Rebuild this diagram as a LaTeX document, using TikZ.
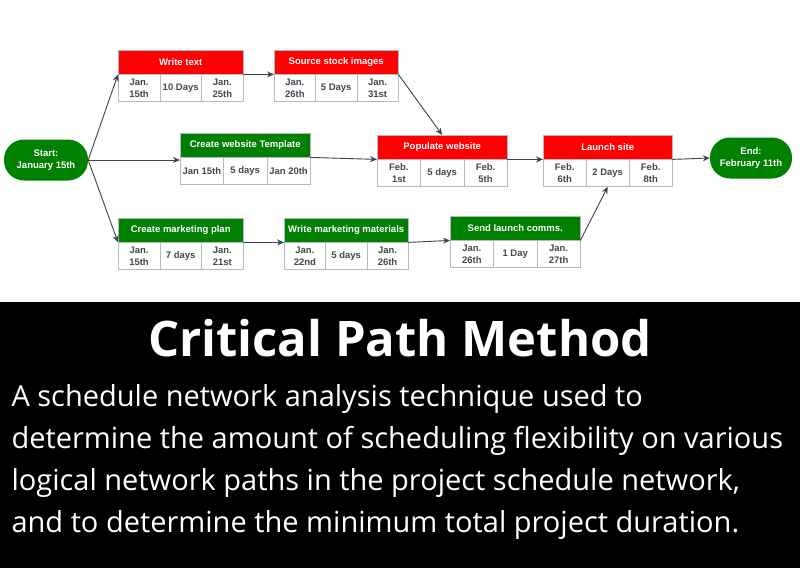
\documentclass[tikz,border=0pt]{standalone}
\usepackage{fontspec}
\setmainfont{Liberation Sans}
\newfontfamily\captionfont{Open Sans}
\usetikzlibrary{arrows.meta}
\definecolor{critred}{RGB}{255,0,0}
\definecolor{okgreen}{RGB}{0,128,0}
\definecolor{cellline}{RGB}{180,185,195}
\definecolor{celltext}{RGB}{70,70,80}
\definecolor{linkgrey}{RGB}{60,66,80}
\tikzset{
    head/.style={draw=cellline, fill=#1, text=white, font=\fontsize{9.5}{10}\selectfont\bfseries,
        minimum height=24pt, inner sep=0pt, anchor=north west},
    cell/.style={draw=cellline, fill=white, text=celltext, font=\fontsize{9.5}{11.5}\selectfont\bfseries,
        align=center, minimum height=27pt, inner sep=0pt, anchor=north west},
    pill/.style={fill=okgreen, text=white, rounded corners=20pt, font=\fontsize{9.5}{11.5}\selectfont\bfseries,
        align=center, minimum width=84pt, minimum height=41pt},
    link/.style={draw=linkgrey, line width=0.9pt, -{Stealth[length=7pt,width=6pt]}}
}
% task box: name, x, y, width, colour, header, start, duration, finish
\newcommand{\taskbox}[9]{%
    \node[head=#5, minimum width=#4pt] (#1) at (#2,#3) {#6};
    \node[cell, minimum width=#4pt/3] (#1-a) at (#1.south west) {#7};
    \node[cell, minimum width=#4pt/3, anchor=north] (#1-b) at (#1.south) {#8};
    \node[cell, minimum width=#4pt/3, anchor=north east] (#1-c) at (#1.south east) {#9};
}
\begin{document}
\begin{tikzpicture}[x=1pt,y=-1pt]
    \useasboundingbox (0,0) rectangle (800,568);
    \fill[black] (0,302) rectangle (800,568);

    % Start and end
    \node[pill] (start) at (46,160) {Start:\\January 15th};
    \node[pill, minimum width=82pt] (end) at (751,158) {End:\\February 11th};

    % Top row
    \taskbox{write}{118}{50}{125}{critred}{Write text}{Jan.\\15th}{10 Days}{Jan.\\25th}
    \taskbox{stock}{274}{50}{124}{critred}{Source stock images}{Jan.\\26th}{5 Days}{Jan.\\31st}
    % Middle row
    \taskbox{template}{180}{133}{130}{okgreen}{Create website Template}{Jan 15th}{5 days}{Jan 20th}
    \taskbox{populate}{377}{135}{130}{critred}{Populate website}{Feb.\\1st}{5 days}{Feb.\\5th}
    \taskbox{launch}{543}{135}{129}{critred}{Launch site}{Feb.\\6th}{2 Days}{Feb.\\8th}
    % Bottom row
    \taskbox{plan}{118}{218}{125}{okgreen}{Create marketing plan}{Jan.\\15th}{7 days}{Jan.\\21st}
    \taskbox{material}{284}{218}{124}{okgreen}{Write marketing materials}{Jan.\\22nd}{5 days}{Jan.\\26th}
    \taskbox{comms}{450}{216}{130}{okgreen}{Send launch comms.}{Jan.\\26th}{1 Day}{Jan.\\27th}

    % Links
    \draw[link] (start.east) -- (write.south west);
    \draw[link] (start.east) -- (start.east -| template.west);
    \draw[link] (start.east) -- (plan.south west);
    \draw[link] (write.south east) -- (stock.south west);
    \draw[link] (stock-c.north east) -- (populate.north);
    \draw[link] (template.south east) -- (populate.south west);
    \draw[link] (populate.south east) -- (launch.south west);
    \draw[link] (launch.south east) -- (end.west);
    \draw[link] (plan.south east) -- (material.south west);
    \draw[link] (material.south east) -- (comms.south west);
    \draw[link] (comms.south east) -- (launch-b.south);

    % Caption
    \node[text=white, font=\captionfont\bfseries\fontsize{49}{54}\selectfont, anchor=base] (title) at (400,356) {Critical Path Method};
    \node[text=white, font=\captionfont\fontsize{29}{42}\selectfont, align=left, anchor=north west] (body) at (8,381)
        {A schedule network analysis technique used to\\
         determine the amount of scheduling flexibility on various\\
         logical network paths in the project schedule network,\\
         and to determine the minimum total project duration.};
\end{tikzpicture}
\end{document}
